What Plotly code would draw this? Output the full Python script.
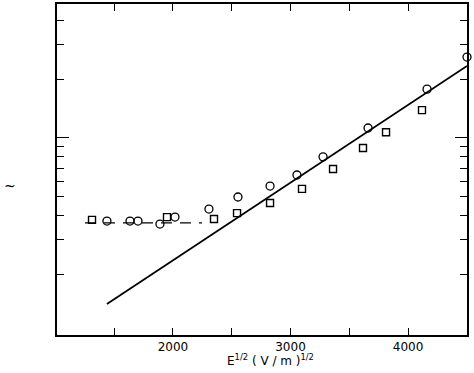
import plotly.graph_objects as go

# Data (x = E^1/2, y on log axis)
circle_x = [1438, 1634, 1702, 1889, 2017, 2306, 2553, 2826, 3055, 3277, 3660, 4162, 4502]
circle_y = [3.75, 3.75, 3.75, 3.62, 3.93, 4.32, 4.98, 5.67, 6.46, 8.0, 11.25, 17.8, 26.0]

square_x = [1311, 1949, 2349, 2545, 2826, 3098, 3362, 3617, 3813, 4119]
square_y = [3.80, 3.93, 3.84, 4.12, 4.64, 5.48, 6.93, 8.89, 10.7, 13.9]

fit_x = [1438, 4502]
fit_y = [1.41, 23.4]

dash_x = [1251, 2247]
dash_y = [3.67, 3.67]

x_tickvals = [1500, 2000, 2500, 3000, 3500, 4000]
x_ticktext = ["", "2000", "", "3000", "", "4000"]
y_major = [10]
y_minor = [2, 3, 4, 5, 6, 7, 8, 9, 20, 30, 40]

fig = go.Figure()
fig.add_trace(go.Scatter(x=dash_x, y=dash_y, mode="lines",
                         line=dict(color="black", width=1.4, dash="11px,8px"),
                         showlegend=False, hoverinfo="skip"))
fig.add_trace(go.Scatter(x=fit_x, y=fit_y, mode="lines",
                         line=dict(color="black", width=1.8),
                         showlegend=False, hoverinfo="skip"))
fig.add_trace(go.Scatter(x=circle_x, y=circle_y, mode="markers",
                         marker=dict(symbol="circle-open", size=8, color="black",
                                     line=dict(width=1.3, color="black")),
                         cliponaxis=False, showlegend=False))
fig.add_trace(go.Scatter(x=square_x, y=square_y, mode="markers",
                         marker=dict(symbol="square-open", size=7, color="black",
                                     line=dict(width=1.4, color="black")),
                         cliponaxis=False, showlegend=False))

fig.update_layout(
    width=474, height=373,
    margin=dict(l=57, r=7, t=4, b=38, autoexpand=False),
    paper_bgcolor="white", plot_bgcolor="white",
    font=dict(family="DejaVu Sans", size=12, color="black"),
    showlegend=False,
)
fig.update_xaxes(
    range=[1013, 4502], showgrid=False, zeroline=False,
    showline=True, linecolor="black", linewidth=1.5, mirror="ticks",
    ticks="inside", ticklen=7, tickwidth=1.3, tickcolor="black",
    tickmode="array", tickvals=x_tickvals, ticktext=x_ticktext,
    tickfont=dict(family="DejaVu Sans", size=12),
)
fig.update_yaxes(
    type="log", range=[-0.0103, 1.687], showgrid=False, zeroline=False,
    showline=True, linecolor="black", linewidth=1.5, mirror="ticks",
    ticks="inside", ticklen=12, tickwidth=1.3, tickcolor="black",
    tickmode="array", tickvals=y_major, showticklabels=False,
    minor=dict(tickmode="array", tickvals=y_minor, ticks="inside",
               ticklen=7, tickwidth=1.3, tickcolor="black", showgrid=False),
)
fig.add_annotation(xref="paper", yref="paper", x=0.52, y=-0.045,
                   xanchor="center", yanchor="top", showarrow=False,
                   text="E<sup>1/2</sup> ( V / m )<sup>1/2</sup>",
                   font=dict(family="DejaVu Sans", size=12))
fig.add_annotation(xref="paper", yref="paper", x=-0.115, y=0.45,
                   xanchor="center", yanchor="middle", showarrow=False,
                   text="~", font=dict(family="DejaVu Sans", size=14))

fig.write_html("out.html", config={"displayModeBar": False},
               post_script="document.body.style.margin='0';")
